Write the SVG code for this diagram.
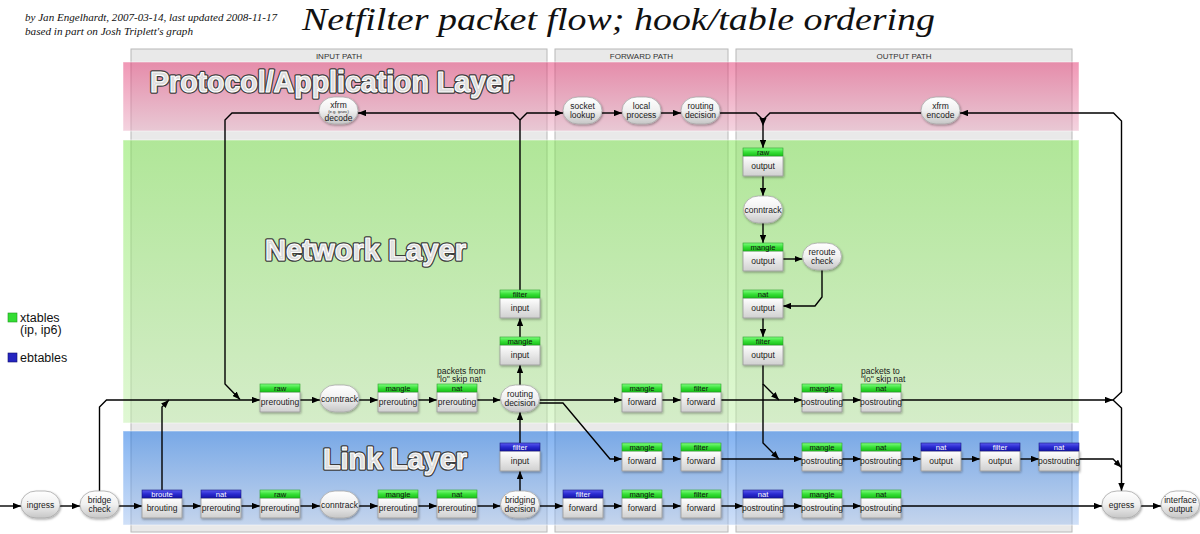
<svg xmlns="http://www.w3.org/2000/svg" width="1200" height="534" viewBox="0 0 1200 534">
<defs>
<linearGradient id="gPink" x1="0" y1="0" x2="0" y2="1"><stop offset="0" stop-color="#e2306c"/><stop offset="1" stop-color="#e8a8c0"/></linearGradient>
<linearGradient id="gGreen" x1="0" y1="0" x2="0" y2="1"><stop offset="0" stop-color="#78e448"/><stop offset="1" stop-color="#c0f0a8"/></linearGradient>
<linearGradient id="gBlue" x1="0" y1="0" x2="0" y2="1"><stop offset="0" stop-color="#0868e4"/><stop offset="1" stop-color="#a0c0f0"/></linearGradient>
<linearGradient id="gBody" x1="0" y1="0" x2="0" y2="1"><stop offset="0" stop-color="#ffffff"/><stop offset="1" stop-color="#d0d0d0"/></linearGradient>
<linearGradient id="gEl" x1="0" y1="0" x2="0" y2="1"><stop offset="0" stop-color="#ffffff"/><stop offset="0.5" stop-color="#f0f0f0"/><stop offset="1" stop-color="#c6c6c6"/></linearGradient>
<linearGradient id="gHG" x1="0" y1="0" x2="0" y2="1"><stop offset="0" stop-color="#80ff80"/><stop offset="0.5" stop-color="#38e038"/><stop offset="1" stop-color="#18c018"/></linearGradient>
<linearGradient id="gHB" x1="0" y1="0" x2="0" y2="1"><stop offset="0" stop-color="#5a5af0"/><stop offset="0.5" stop-color="#2a2ad0"/><stop offset="1" stop-color="#1414a8"/></linearGradient>
<filter id="sh" x="-20%" y="-20%" width="150%" height="160%"><feDropShadow dx="0.8" dy="1.2" stdDeviation="0.8" flood-color="#000" flood-opacity="0.35"/></filter>
<marker id="ar" viewBox="0 0 10 8" refX="10" refY="4" markerWidth="8" markerHeight="6.4" markerUnits="userSpaceOnUse" orient="auto"><path d="M0,0L10,4L0,8z" fill="#000"/></marker>
<style>
.col{fill:#e9e9e9;stroke:#b8b8b8;stroke-width:1}
.colt{font-family:"Liberation Sans",Arial,sans-serif;font-size:8px;fill:#333;text-anchor:middle}
.lay{fill-opacity:0.5;stroke:#ffffff;stroke-opacity:0.5;stroke-width:1}
.lt1{font-family:"Liberation Sans",Arial,sans-serif;font-weight:bold;font-size:28.6px;fill:none;stroke:#3c3c3c;stroke-width:3.6;stroke-linejoin:round}
.lt2{font-family:"Liberation Sans",Arial,sans-serif;font-weight:bold;font-size:28.6px;fill:#ffffff;fill-opacity:0.82;stroke:#ffffff;stroke-width:1.1;stroke-linejoin:round}
.bd{fill:url(#gBody);stroke:#999;stroke-width:0.8;filter:url(#sh)}
.hg{fill:url(#gHG);stroke:#28a028;stroke-width:0.6}
.hb{fill:url(#gHB);stroke:#141480;stroke-width:0.6}
.el{fill:url(#gEl);stroke:#a8a8a8;stroke-width:0.8;filter:url(#sh)}
.t{font-family:"Liberation Sans",Arial,sans-serif;font-size:8.5px;fill:#1a1a1a;text-anchor:middle}
.ht{font-family:"Liberation Sans",Arial,sans-serif;font-size:7.6px;fill:#111;text-anchor:middle}
.w{fill:#ffffff}
.sm{font-size:4.2px}
.note{font-family:"Liberation Sans",Arial,sans-serif;font-size:8.5px;fill:#1a1a1a}
.c{fill:none;stroke:#000;stroke-width:1.4}
.a{marker-end:url(#ar)}
.by{font-family:"Liberation Serif","Times New Roman",serif;font-style:italic;font-size:11px;fill:#111}
.leg{font-family:"Liberation Sans",Arial,sans-serif;font-size:12.5px;fill:#111}
</style>
</defs>
<rect width="1200" height="534" fill="#ffffff"/>

<!-- header -->
<text class="by" x="25" y="21" textLength="252" lengthAdjust="spacingAndGlyphs">by Jan Engelhardt, 2007-03-14, last updated 2008-11-17</text>
<text class="by" x="25" y="35" textLength="168" lengthAdjust="spacingAndGlyphs">based in part on Josh Triplett's graph</text>
<text x="302" y="30" font-family="'Liberation Serif','Times New Roman',serif" font-style="italic" font-size="32" fill="#111" textLength="633" lengthAdjust="spacingAndGlyphs">Netfilter packet flow; hook/table ordering</text>

<!-- columns -->
<g id="columns">
<rect class="col" x="131" y="49" width="416" height="483"/>
<rect class="col" x="555" y="49" width="173" height="483"/>
<rect class="col" x="736" y="49" width="336" height="483"/>
<text class="colt" x="339" y="59">INPUT PATH</text>
<text class="colt" x="641.5" y="59">FORWARD PATH</text>
<text class="colt" x="904" y="59">OUTPUT PATH</text>
</g>

<!-- layers -->
<g id="layers">
<rect class="lay" x="123" y="62" width="956" height="69" fill="url(#gPink)"/>
<rect class="lay" x="123" y="140" width="956" height="283" fill="url(#gGreen)"/>
<rect class="lay" x="123" y="431" width="956" height="94" fill="url(#gBlue)"/>
<text class="lt1" x="150" y="92" textLength="363" lengthAdjust="spacingAndGlyphs">Protocol/Application Layer</text>
<text class="lt2" x="150" y="92" textLength="363" lengthAdjust="spacingAndGlyphs">Protocol/Application Layer</text>
<text class="lt1" x="265" y="260" textLength="201" lengthAdjust="spacingAndGlyphs">Network Layer</text>
<text class="lt2" x="265" y="260" textLength="201" lengthAdjust="spacingAndGlyphs">Network Layer</text>
<text class="lt1" x="323" y="469" textLength="144" lengthAdjust="spacingAndGlyphs">Link Layer</text>
<text class="lt2" x="323" y="469" textLength="144" lengthAdjust="spacingAndGlyphs">Link Layer</text>
</g>

<!-- legend -->
<g id="legend">
<rect x="8" y="313" width="9" height="9" fill="#33dd33" stroke="#1f9a1f" stroke-width="0.6"/>
<text class="leg" x="20" y="322">xtables</text>
<text class="leg" x="20" y="334">(ip, ip6)</text>
<rect x="8" y="353" width="9" height="9" fill="#2424c0" stroke="#101070" stroke-width="0.6"/>
<text class="leg" x="20" y="362">ebtables</text>
</g>

<!-- connectors -->
<g id="connectors">
<path class="c a" d="M0,506H21"/>
<path class="c a" d="M60,506H80"/>
<path class="c a" d="M119,506H142"/>
<path class="c a" d="M182,506H201"/>
<path class="c a" d="M241,506H260"/>
<path class="c a" d="M300,506H320"/>
<path class="c a" d="M359,506H378"/>
<path class="c a" d="M418,506H437"/>
<path class="c a" d="M477,506H500.5"/>
<path class="c a" d="M539.5,506H563"/>
<path class="c a" d="M603,506H622"/>
<path class="c a" d="M662,506H681"/>
<path class="c a" d="M721,506H743"/>
<path class="c a" d="M783,506H802"/>
<path class="c a" d="M842,506H861"/>
<path class="c a" d="M901,506H1102"/>
<path class="c a" d="M1141,506H1161"/>
<path class="c a" d="M99.5,491V407L106.5,400H260"/>
<path class="c a" d="M162,490V407L169,400"/>
<path class="c a" d="M520,491V471"/>
<path class="c a" d="M520,443V412"/>
<path class="c a" d="M520,385V365"/>
<path class="c a" d="M520,337V318"/>
<path class="c a" d="M520,290V120L513,113H358"/>
<path class="c a" d="M520,120L527,113H563"/>
<path class="c a" d="M319,113H232L225,120V384L240,399.5"/>
<path class="c a" d="M300,400H320"/>
<path class="c a" d="M359,400H378"/>
<path class="c a" d="M418,400H437"/>
<path class="c a" d="M477,400H500.5"/>
<path class="c a" d="M539.5,400H622"/>
<path class="c a" d="M539.5,403H563L610,459H622"/>
<path class="c a" d="M662,400H681"/>
<path class="c a" d="M721,400H802"/>
<path class="c a" d="M842,400H861"/>
<path class="c a" d="M901,400H1113"/>
<path class="c a" d="M1113,400L1121.5,392V121L1113.5,113H960"/>
<path class="c a" d="M1113,400L1121.5,408V491"/>
<path class="c a" d="M662,459H681"/>
<path class="c a" d="M721,459H802"/>
<path class="c a" d="M842,459H861"/>
<path class="c a" d="M901,459H921"/>
<path class="c a" d="M960,459H980"/>
<path class="c a" d="M1019,459H1039"/>
<path class="c a" d="M1079,459H1113L1121.5,467.5"/>
<path class="c a" d="M602,113H622"/>
<path class="c a" d="M661,113H681"/>
<path class="c" d="M720,113H756L763,120"/>
<path class="c" d="M921,113H770L763,120"/>
<path d="M759.5,118L763,126L766.5,118z" fill="#000"/>
<path class="c a" d="M763,120V148"/>
<path class="c a" d="M763,176V196"/>
<path class="c a" d="M763,223V243"/>
<path class="c a" d="M783,259H802.5"/>
<path class="c a" d="M822,270V297L815,306H783"/>
<path class="c a" d="M763,318V337"/>
<path class="c a" d="M763,365V384L779,400"/>
<path class="c a" d="M763,384V443L779,459"/>
</g>

<!-- protocol layer nodes -->
<g id="p-xfrm-decode" transform="translate(319,97)"><rect class="el" width="39" height="27" rx="15" ry="13.5"/><text class="t" x="19.5" y="10.5">xfrm</text><text class="t sm" x="19.5" y="15.5">(e.g. ipsec)</text><text class="t" x="19.5" y="23.5">decode</text></g>
<g id="p-socket-lookup" transform="translate(563,97)"><rect class="el" width="39" height="27" rx="15" ry="13.5"/><text class="t" x="19.5" y="12">socket</text><text class="t" x="19.5" y="20.5">lookup</text></g>
<g id="p-local-process" transform="translate(622,97)"><rect class="el" width="39" height="27" rx="15" ry="13.5"/><text class="t" x="19.5" y="12">local</text><text class="t" x="19.5" y="20.5">process</text></g>
<g id="p-routing-decision" transform="translate(681,97)"><rect class="el" width="39" height="27" rx="15" ry="13.5"/><text class="t" x="19.5" y="12">routing</text><text class="t" x="19.5" y="20.5">decision</text></g>
<g id="p-xfrm-encode" transform="translate(921,97)"><rect class="el" width="39" height="27" rx="15" ry="13.5"/><text class="t" x="19.5" y="12">xfrm</text><text class="t" x="19.5" y="20.5">encode</text></g>

<!-- network layer nodes -->
<g id="n-raw-prerouting" transform="translate(260,384)"><rect class="bd" y="8" width="40" height="20"/><rect class="hg" width="40" height="8"/><text class="ht" x="20" y="6.8">raw</text><text class="t" x="20" y="20.5">prerouting</text></g>
<g id="n-conntrack" transform="translate(320,385)"><rect class="el" width="39" height="27" rx="15" ry="13.5"/><text class="t" x="19.5" y="16.5">conntrack</text></g>
<g id="n-mangle-prerouting" transform="translate(378,384)"><rect class="bd" y="8" width="40" height="20"/><rect class="hg" width="40" height="8"/><text class="ht" x="20" y="6.8">mangle</text><text class="t" x="20" y="20.5">prerouting</text></g>
<g id="n-nat-prerouting" transform="translate(437,384)"><text class="note" x="0" y="-10.5">packets from</text><text class="note" x="0" y="-2">"lo" skip nat</text><rect class="bd" y="8" width="40" height="20"/><rect class="hg" width="40" height="8"/><text class="ht" x="20" y="6.8">nat</text><text class="t" x="20" y="20.5">prerouting</text></g>
<g id="n-routing-decision" transform="translate(500.5,385)"><rect class="el" width="39" height="27" rx="15" ry="13.5"/><text class="t" x="19.5" y="12">routing</text><text class="t" x="19.5" y="20.5">decision</text></g>
<g id="n-mangle-input" transform="translate(500,337)"><rect class="bd" y="8" width="40" height="20"/><rect class="hg" width="40" height="8"/><text class="ht" x="20" y="6.8">mangle</text><text class="t" x="20" y="20.5">input</text></g>
<g id="n-filter-input" transform="translate(500,290)"><rect class="bd" y="8" width="40" height="20"/><rect class="hg" width="40" height="8"/><text class="ht" x="20" y="6.8">filter</text><text class="t" x="20" y="20.5">input</text></g>
<g id="n-mangle-forward" transform="translate(622,384)"><rect class="bd" y="8" width="40" height="20"/><rect class="hg" width="40" height="8"/><text class="ht" x="20" y="6.8">mangle</text><text class="t" x="20" y="20.5">forward</text></g>
<g id="n-filter-forward" transform="translate(681,384)"><rect class="bd" y="8" width="40" height="20"/><rect class="hg" width="40" height="8"/><text class="ht" x="20" y="6.8">filter</text><text class="t" x="20" y="20.5">forward</text></g>
<g id="n-mangle-postrouting" transform="translate(802,384)"><rect class="bd" y="8" width="40" height="20"/><rect class="hg" width="40" height="8"/><text class="ht" x="20" y="6.8">mangle</text><text class="t" x="20" y="20.5">postrouting</text></g>
<g id="n-nat-postrouting" transform="translate(861,384)"><text class="note" x="0" y="-10.5">packets to</text><text class="note" x="0" y="-2">"lo" skip nat</text><rect class="bd" y="8" width="40" height="20"/><rect class="hg" width="40" height="8"/><text class="ht" x="20" y="6.8">nat</text><text class="t" x="20" y="20.5">postrouting</text></g>
<g id="n-raw-output" transform="translate(743,148)"><rect class="bd" y="8" width="40" height="20"/><rect class="hg" width="40" height="8"/><text class="ht" x="20" y="6.8">raw</text><text class="t" x="20" y="20.5">output</text></g>
<g id="n-conntrack-out" transform="translate(743.5,196)"><rect class="el" width="39" height="27" rx="15" ry="13.5"/><text class="t" x="19.5" y="16.5">conntrack</text></g>
<g id="n-mangle-output" transform="translate(743,243)"><rect class="bd" y="8" width="40" height="20"/><rect class="hg" width="40" height="8"/><text class="ht" x="20" y="6.8">mangle</text><text class="t" x="20" y="20.5">output</text></g>
<g id="n-reroute-check" transform="translate(802.5,243)"><rect class="el" width="39" height="27" rx="15" ry="13.5"/><text class="t" x="19.5" y="12">reroute</text><text class="t" x="19.5" y="20.5">check</text></g>
<g id="n-nat-output" transform="translate(743,290)"><rect class="bd" y="8" width="40" height="20"/><rect class="hg" width="40" height="8"/><text class="ht" x="20" y="6.8">nat</text><text class="t" x="20" y="20.5">output</text></g>
<g id="n-filter-output" transform="translate(743,337)"><rect class="bd" y="8" width="40" height="20"/><rect class="hg" width="40" height="8"/><text class="ht" x="20" y="6.8">filter</text><text class="t" x="20" y="20.5">output</text></g>

<!-- link layer middle row -->
<g id="l-filter-input" transform="translate(500,443)"><rect class="bd" y="8" width="40" height="20"/><rect class="hb" width="40" height="8"/><text class="ht w" x="20" y="6.8">filter</text><text class="t" x="20" y="20.5">input</text></g>
<g id="l-mangle-forward-2" transform="translate(622,443)"><rect class="bd" y="8" width="40" height="20"/><rect class="hg" width="40" height="8"/><text class="ht" x="20" y="6.8">mangle</text><text class="t" x="20" y="20.5">forward</text></g>
<g id="l-filter-forward-2" transform="translate(681,443)"><rect class="bd" y="8" width="40" height="20"/><rect class="hg" width="40" height="8"/><text class="ht" x="20" y="6.8">filter</text><text class="t" x="20" y="20.5">forward</text></g>
<g id="l-mangle-postrouting-2" transform="translate(802,443)"><rect class="bd" y="8" width="40" height="20"/><rect class="hg" width="40" height="8"/><text class="ht" x="20" y="6.8">mangle</text><text class="t" x="20" y="20.5">postrouting</text></g>
<g id="l-nat-postrouting-2" transform="translate(861,443)"><rect class="bd" y="8" width="40" height="20"/><rect class="hg" width="40" height="8"/><text class="ht" x="20" y="6.8">nat</text><text class="t" x="20" y="20.5">postrouting</text></g>
<g id="l-nat-output-eb" transform="translate(921,443)"><rect class="bd" y="8" width="40" height="20"/><rect class="hb" width="40" height="8"/><text class="ht w" x="20" y="6.8">nat</text><text class="t" x="20" y="20.5">output</text></g>
<g id="l-filter-output-eb" transform="translate(980,443)"><rect class="bd" y="8" width="40" height="20"/><rect class="hb" width="40" height="8"/><text class="ht w" x="20" y="6.8">filter</text><text class="t" x="20" y="20.5">output</text></g>
<g id="l-nat-postrouting-eb2" transform="translate(1039,443)"><rect class="bd" y="8" width="40" height="20"/><rect class="hb" width="40" height="8"/><text class="ht w" x="20" y="6.8">nat</text><text class="t" x="20" y="20.5">postrouting</text></g>

<!-- link layer bottom row -->
<g id="l-ingress" transform="translate(21,491)"><rect class="el" width="39" height="27" rx="15" ry="13.5"/><text class="t" x="19.5" y="16.5">ingress</text></g>
<g id="l-bridge-check" transform="translate(80,491)"><rect class="el" width="39" height="27" rx="15" ry="13.5"/><text class="t" x="19.5" y="12">bridge</text><text class="t" x="19.5" y="20.5">check</text></g>
<g id="l-broute-brouting" transform="translate(142,490)"><rect class="bd" y="8" width="40" height="20"/><rect class="hb" width="40" height="8"/><text class="ht w" x="20" y="6.8">broute</text><text class="t" x="20" y="20.5">brouting</text></g>
<g id="l-nat-prerouting-eb" transform="translate(201,490)"><rect class="bd" y="8" width="40" height="20"/><rect class="hb" width="40" height="8"/><text class="ht w" x="20" y="6.8">nat</text><text class="t" x="20" y="20.5">prerouting</text></g>
<g id="l-raw-prerouting" transform="translate(260,490)"><rect class="bd" y="8" width="40" height="20"/><rect class="hg" width="40" height="8"/><text class="ht" x="20" y="6.8">raw</text><text class="t" x="20" y="20.5">prerouting</text></g>
<g id="l-conntrack" transform="translate(320,491)"><rect class="el" width="39" height="27" rx="15" ry="13.5"/><text class="t" x="19.5" y="16.5">conntrack</text></g>
<g id="l-mangle-prerouting" transform="translate(378,490)"><rect class="bd" y="8" width="40" height="20"/><rect class="hg" width="40" height="8"/><text class="ht" x="20" y="6.8">mangle</text><text class="t" x="20" y="20.5">prerouting</text></g>
<g id="l-nat-prerouting" transform="translate(437,490)"><rect class="bd" y="8" width="40" height="20"/><rect class="hg" width="40" height="8"/><text class="ht" x="20" y="6.8">nat</text><text class="t" x="20" y="20.5">prerouting</text></g>
<g id="l-bridging-decision" transform="translate(500.5,491)"><rect class="el" width="39" height="27" rx="15" ry="13.5"/><text class="t" x="19.5" y="12">bridging</text><text class="t" x="19.5" y="20.5">decision</text></g>
<g id="l-filter-forward-eb" transform="translate(563,490)"><rect class="bd" y="8" width="40" height="20"/><rect class="hb" width="40" height="8"/><text class="ht w" x="20" y="6.8">filter</text><text class="t" x="20" y="20.5">forward</text></g>
<g id="l-mangle-forward" transform="translate(622,490)"><rect class="bd" y="8" width="40" height="20"/><rect class="hg" width="40" height="8"/><text class="ht" x="20" y="6.8">mangle</text><text class="t" x="20" y="20.5">forward</text></g>
<g id="l-filter-forward" transform="translate(681,490)"><rect class="bd" y="8" width="40" height="20"/><rect class="hg" width="40" height="8"/><text class="ht" x="20" y="6.8">filter</text><text class="t" x="20" y="20.5">forward</text></g>
<g id="l-nat-postrouting-eb" transform="translate(743,490)"><rect class="bd" y="8" width="40" height="20"/><rect class="hb" width="40" height="8"/><text class="ht w" x="20" y="6.8">nat</text><text class="t" x="20" y="20.5">postrouting</text></g>
<g id="l-mangle-postrouting" transform="translate(802,490)"><rect class="bd" y="8" width="40" height="20"/><rect class="hg" width="40" height="8"/><text class="ht" x="20" y="6.8">mangle</text><text class="t" x="20" y="20.5">postrouting</text></g>
<g id="l-nat-postrouting" transform="translate(861,490)"><rect class="bd" y="8" width="40" height="20"/><rect class="hg" width="40" height="8"/><text class="ht" x="20" y="6.8">nat</text><text class="t" x="20" y="20.5">postrouting</text></g>
<g id="l-egress" transform="translate(1102,491)"><rect class="el" width="39" height="27" rx="15" ry="13.5"/><text class="t" x="19.5" y="16.5">egress</text></g>
<g id="l-interface-output" transform="translate(1161,491)"><rect class="el" width="38.5" height="27" rx="15" ry="13.5"/><text class="t" x="19.5" y="12">interface</text><text class="t" x="19.5" y="20.5">output</text></g>
</svg>
